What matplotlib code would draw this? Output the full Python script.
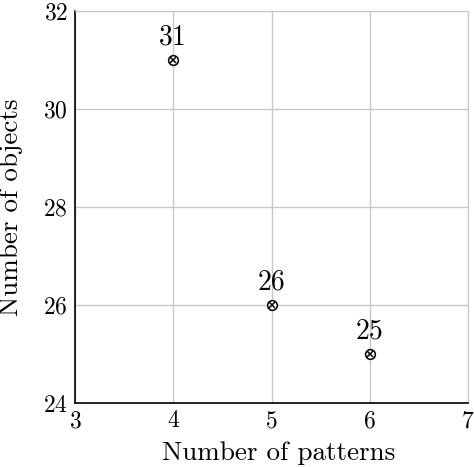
import matplotlib
matplotlib.use("Agg")
import matplotlib.pyplot as plt

patterns = [4, 5, 6]
objects = [31, 26, 25]
labels = ["31", "26", "25"]
xticks = [3, 4, 5, 6, 7]
yticks = [24, 26, 28, 30, 32]

plt.rcParams['font.family'] = ['cmr10', 'DejaVu Serif']
plt.rcParams['axes.formatter.use_mathtext'] = True
plt.rcParams['mathtext.fontset'] = 'cm'

fig = plt.figure(figsize=(4.74, 4.67), dpi=100)
ax = fig.add_axes([75/474, 1-403/467, (468-75)/474, (403-11)/467])
ax.set_xlim(3, 7)
ax.set_ylim(24, 32)
ax.set_xticks(xticks)
ax.set_yticks(yticks)
ax.grid(True, color='#c8c8c8', linewidth=1.0)
ax.set_axisbelow(True)
for s in ['top', 'right']:
    ax.spines[s].set_color('#c8c8c8')
for s in ['left', 'bottom']:
    ax.spines[s].set_color('black')
    ax.spines[s].set_linewidth(1.2)
ax.tick_params(length=0, labelsize=17, pad=5)

ax.plot(patterns, objects, linestyle='none', marker='o', markersize=7,
        markerfacecolor='white', markeredgecolor='black', markeredgewidth=1.1, zorder=3)
ax.plot(patterns, objects, linestyle='none', marker='x', markersize=4.5,
        markeredgecolor='black', markeredgewidth=1.1, zorder=4)
for x, y, t in zip(patterns, objects, labels):
    ax.annotate(t, (x, y), xytext=(0, 7), textcoords='offset points',
                ha='center', va='bottom', fontsize=20)

ax.set_xlabel('Number of patterns', fontsize=19.5)
ax.set_ylabel('Number of objects', fontsize=19.5)
ax.xaxis.set_label_coords(0.518, -0.098)
ax.yaxis.set_label_coords(-0.132, 0.5)

fig.savefig('out.png', dpi=100)
